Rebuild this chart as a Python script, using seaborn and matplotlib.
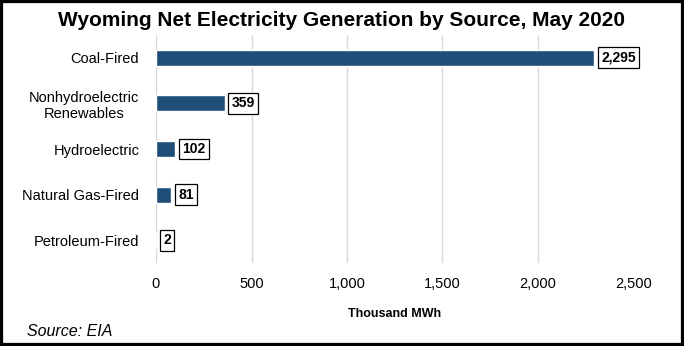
import matplotlib
matplotlib.use("Agg")
import matplotlib.pyplot as plt
from matplotlib.patches import Rectangle
import seaborn as sns
import pandas as pd

# Net generation by source, thousand MWh
sources = ["Coal-Fired", "Nonhydroelectric\nRenewables", "Hydroelectric",
           "Natural Gas-Fired", "Petroleum-Fired"]
generation = [2295, 359, 102, 81, 2]
x_ticks = [0, 500, 1000, 1500, 2000, 2500]

df = pd.DataFrame({"source": sources, "generation": generation})

sns.set_theme(style="white")
plt.rcParams["font.family"] = ["Liberation Sans", "DejaVu Sans"]

fig = plt.figure(figsize=(6.84, 3.46), dpi=100)
ax = fig.add_axes([156 / 684, 1 - 263 / 346, (633.5 - 156) / 684, (263 - 35) / 346])

sns.barplot(data=df, x="generation", y="source", orient="h", color="#1F4E79",
            saturation=1, width=0.35, ax=ax, zorder=3)

ax.set_xlim(0, 2500)
ax.set_xticks(x_ticks)
ax.set_xticklabels([f"{v:,}" for v in x_ticks], fontsize=10.5, color="black")
ax.tick_params(axis="x", length=0, pad=10)
ax.tick_params(axis="y", length=0, pad=12)
for lbl in ax.get_yticklabels():
    lbl.set_fontsize(10.5)
    lbl.set_color("black")
    lbl.set_horizontalalignment("right")
    lbl.set_multialignment("center")
ax.grid(axis="x", color="#d9d9d9", linewidth=1, zorder=0)
ax.grid(axis="y", visible=False)
for s in ax.spines.values():
    s.set_visible(False)
ax.set_ylabel("")
ax.set_xlabel("Thousand MWh", fontsize=9, fontweight="bold", labelpad=12, color="black")

# value labels in boxes right of each bar
for i, v in enumerate(generation):
    ax.annotate(f"{v:,}", xy=(v, i), xytext=(7, 0), textcoords="offset pixels",
                ha="left", va="center", fontsize=10, fontweight="bold",
                color="black", annotation_clip=False, zorder=5,
                bbox=dict(boxstyle="square,pad=0.25", fc="white", ec="black", lw=0.9))

fig.text(0.5, 1 - 21 / 346, "Wyoming Net Electricity Generation by Source, May 2020",
         ha="center", va="center", fontsize=15, fontweight="bold", color="black")
fig.text(27 / 684, 1 - 332 / 346, "Source: EIA", ha="left", va="center",
         fontsize=11.5, fontstyle="italic", color="black")

# outer frame
fig.patches.append(Rectangle((0, 0), 1, 1, transform=fig.transFigure, fill=False,
                             edgecolor="black", linewidth=4.5, zorder=10))

fig.savefig("out.png", dpi=100)
